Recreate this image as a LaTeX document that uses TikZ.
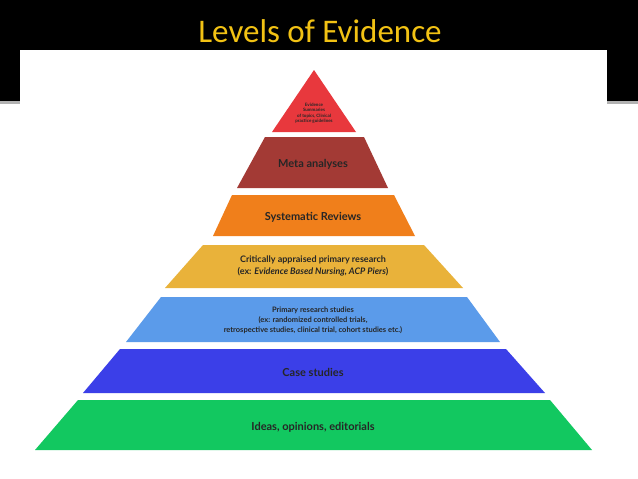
\documentclass[tikz,border=0pt]{standalone}
\usepackage{fontspec}
\setmainfont{Lato}
\newfontfamily\titlefont{Carlito}
\begin{document}
\begin{tikzpicture}[x=1pt,y=-1pt,
  lab/.style={font=\bfseries, align=center, text=black!85, inner sep=0pt}]
\useasboundingbox (0,0) rectangle (638,479);
\fill[black] (0,0) rectangle (638,101);
\fill[gray!60] (0,101) rectangle (638,104);
\fill[white] (20,50) rectangle (607,479);
\node[font=\titlefont\fontsize{33}{36}\selectfont, text={rgb,255:red,242;green,194;blue,20}] (title) at (320,31) {Levels of Evidence};
\definecolor{c1}{HTML}{E8383D}\definecolor{c2}{HTML}{A33A35}\definecolor{c3}{HTML}{F07F1B}
\definecolor{c4}{HTML}{E9B23A}\definecolor{c5}{HTML}{5B9BEA}\definecolor{c6}{HTML}{3B3FE8}\definecolor{c7}{HTML}{12C860}
\fill[c1] (314,70) -- (356,132) -- (272,132) -- cycle;
\fill[c2] (265,137) -- (364,137) -- (388,188) -- (237,188) -- cycle;
\fill[c3] (232,195) -- (394,195) -- (415,236) -- (213,236) -- cycle;
\fill[c4] (203,245) -- (424,245) -- (463,288) -- (165,288) -- cycle;
\fill[c5] (161,297) -- (467,297) -- (500,342) -- (126,342) -- cycle;
\fill[c6] (120,349) -- (506,349) -- (545,393) -- (83,393) -- cycle;
\fill[c7] (78,400) -- (550,400) -- (592,450) -- (35,450) -- cycle;
\node[lab, font=\bfseries\fontsize{4.5}{5.5}\selectfont] (l1) at (314,113) {Evidence\\Summaries\\of topics, Clinical\\practice guidelines};
\node[lab, font=\bfseries\fontsize{11}{13}\selectfont] (l2) at (313,164) {Meta analyses};
\node[lab, font=\bfseries\fontsize{11}{13}\selectfont] (l3) at (313,217) {Systematic Reviews};
\node[lab, font=\bfseries\fontsize{9}{11.5}\selectfont] (l4) at (313,266) {Critically appraised primary research\\(ex: \textit{Evidence Based Nursing, ACP Piers})};
\node[lab, font=\bfseries\fontsize{7.5}{10}\selectfont] (l5) at (313,320) {Primary research studies\\(ex: randomized controlled trials,\\retrospective studies, clinical trial, cohort studies etc.)};
\node[lab, font=\bfseries\fontsize{11}{13}\selectfont] (l6) at (313,372) {Case studies};
\node[lab, font=\bfseries\fontsize{11}{13}\selectfont] (l7) at (313,427) {Ideas, opinions, editorials};
\end{tikzpicture}
\end{document}
